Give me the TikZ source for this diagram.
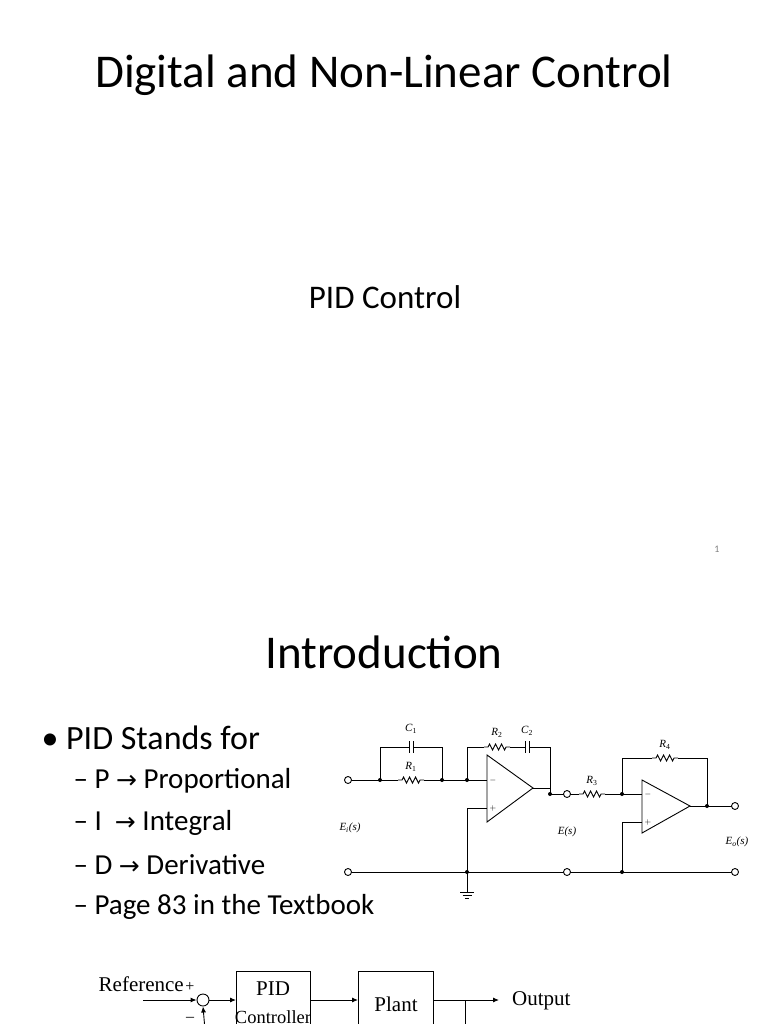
\documentclass[tikz,border=0pt]{standalone}
\usepackage{fontspec}
\setmainfont{Carlito}
\newfontfamily\serif{Liberation Serif}
\newfontfamily\dvs{DejaVu Sans}
\usetikzlibrary{arrows.meta}
\newcommand{\rarr}{{\dvs\fontsize{25}{25}\selectfont →}}
\newcommand{\sub}[1]{\textsubscript{\upshape #1}}
\begin{document}
\begin{tikzpicture}[x=1pt,y=-1pt,
  wire/.style={line width=0.9pt},
  term/.style={circle,draw,line width=0.9pt,fill=white,inner sep=0pt,minimum size=7pt},
  dotn/.style={circle,fill,inner sep=0pt,minimum size=4pt},
  lab/.style={font=\serif\itshape\fontsize{11}{11}\selectfont,inner sep=0pt},
  btxt/.style={font=\serif\fontsize{21}{21}\selectfont,inner sep=0pt},
  blk/.style={draw,line width=0.9pt},
  arr/.style={line width=0.9pt,-{Latex[length=6pt,width=5pt]}},
  res/.pic={\draw[wire] (-13,0)--(-9,0)--(-7.5,-3)--(-4.5,3)--(-1.5,-3)--(1.5,3)--(4.5,-3)--(7.5,3)--(9,0)--(13,0);},
  cap/.pic={\draw[wire] (-2,-6)--(-2,6) (2,-6)--(2,6);}
]
\useasboundingbox (0,0) rectangle (768,1024);
\fill[white] (0,0) rectangle (768,1024);
% slide 1
\node (t1) at (384,75) {\fontsize{47}{50}\selectfont Digital and Non-Linear Control};
\node (t2) at (385,297) {\fontsize{33}{36}\selectfont PID Control};
\node (pg) at (717,549) {\fontsize{10}{10}\selectfont\color{gray}1};
% slide 2
\node (t3) at (384,652) {\fontsize{47}{50}\selectfont Introduction};
\node[anchor=west] (b1) at (38,738) {\fontsize{34}{36}\selectfont • PID Stands for};
\node[anchor=west] (b2) at (70,781) {\fontsize{29}{30}\selectfont – P \rarr\ Proportional};
\node[anchor=west] (b3) at (70,823) {\fontsize{29}{30}\selectfont – I \ \rarr\ Integral};
\node[anchor=west] (b4) at (70,865) {\fontsize{29}{30}\selectfont – D \rarr\ Derivative};
\node[anchor=west] (b5) at (70,907) {\fontsize{29}{30}\selectfont – Page 83 in the Textbook};
% circuit
\coordinate (n1) at (380,780); \coordinate (n2) at (442,780); \coordinate (n3) at (467,780);
\coordinate (o1) at (550,794); \coordinate (n4) at (622,794); \coordinate (o2) at (707,806);
\coordinate (g1) at (467,872); \coordinate (g2) at (622,872);
\draw[wire] (348,780)--(487,780);
\draw[wire] (n1)--(380,747)--(442,747)--(n2);
\fill[white] (409.5,740) rectangle (412.5,754); \pic at (411,747) {cap};
\fill[white] (398,776) rectangle (424,784); \pic at (411,780) {res};
\draw[wire] (n3)--(467,747)--(550,747)--(o1);
\fill[white] (484,743) rectangle (510,751); \pic at (497,747) {res};
\fill[white] (525.5,740) rectangle (528.5,754); \pic at (527,747) {cap};
\draw[wire] (487,755)--(533,788)--(487,822)--cycle;
\node[font=\fontsize{8}{8}\selectfont] (m1) at (493,780) {$-$};
\node[font=\fontsize{8}{8}\selectfont] (p1) at (493,808) {$+$};
\draw[wire] (533,788)--(550,788)--(o1)--(567,794);
\draw[wire] (567,794)--(642,794);
\fill[white] (579,790) rectangle (605,798); \pic at (592,794) {res};
\draw[wire] (487,808)--(467,808)--(g1);
\draw[wire] (n4)--(622,758)--(707,758)--(o2);
\fill[white] (652,754) rectangle (678,762); \pic at (665,758) {res};
\draw[wire] (642,780)--(690,806)--(642,833)--cycle;
\node[font=\fontsize{8}{8}\selectfont] (m2) at (648,794) {$-$};
\node[font=\fontsize{8}{8}\selectfont] (p2) at (648,822) {$+$};
\draw[wire] (642,822)--(622,822)--(g2);
\draw[wire] (690,806)--(735,806);
\draw[wire] (348,872)--(735,872);
\draw[wire] (g1)--(467,892);
\draw[wire] (460,892)--(474,892) (462.5,895)--(471.5,895) (465,898)--(469,898);
\foreach \p in {n1,n2,n3,o1,n4,o2,g1,g2} \node[dotn] at (\p) {};
\node[term] (ti) at (348,780) {}; \node[term] (tm) at (567,794) {}; \node[term] (to) at (735,806) {};
\node[term] (bi) at (348,872) {}; \node[term] (bm) at (567,872) {}; \node[term] (bo) at (735,872) {};
\node[lab] (lc1) at (411,729) {C\sub{1}}; \node[lab] (lr1) at (411,767) {R\sub{1}};
\node[lab] (lr2) at (497,733) {R\sub{2}}; \node[lab] (lc2) at (527,731) {C\sub{2}};
\node[lab] (lr3) at (592,781) {R\sub{3}}; \node[lab] (lr4) at (665,745) {R\sub{4}};
\node[lab] (lei) at (350,828) {E\sub{\itshape i}(s)}; \node[lab] (le) at (567,832) {E(s)};
\node[lab] (leo) at (737,842) {E\sub{\itshape o}(s)};
% block diagram
\node[btxt,anchor=east] (ref) at (184,984) {Reference};
\node[circle,draw,line width=0.9pt,minimum size=12pt,inner sep=0pt] (sum) at (203,1000) {};
\coordinate (rin) at (143,1000);
\draw[arr] (rin)--(sum);
\node[font=\serif\fontsize{16}{16}\selectfont,inner sep=0pt] (pl) at (190,987) {+};
\node[font=\serif\fontsize{16}{16}\selectfont,inner sep=0pt] (mi) at (190,1019) {–};
\draw[blk] (236,1030)--(236,971)--(310,971)--(310,1030);
\node[btxt] (pid) at (273,989) {PID};
\node[btxt,font=\serif\fontsize{18.5}{19}\selectfont] (ctl) at (273,1017) {Controller};
\coordinate (pidin) at (236,1000); \coordinate (pidout) at (310,1000);
\draw[arr] (sum)--(pidin);
\draw[blk] (358,971) rectangle (433,1036);
\node[btxt] (plant) at (396,1004) {Plant};
\coordinate (plin) at (358,1000); \coordinate (plout) at (433,1000);
\draw[arr] (pidout)--(plin);
\node[btxt,anchor=west] (out) at (512,1001) {Output};
\coordinate (oute) at (499,1000);
\draw[arr] (plout)--(oute);
\coordinate (br) at (465,1000); \coordinate (brd) at (465,1030);
\draw[wire] (br)--(brd);
\coordinate (fb) at (205,1030);
\draw[arr] (fb)--(sum.south);
\end{tikzpicture}
\end{document}
